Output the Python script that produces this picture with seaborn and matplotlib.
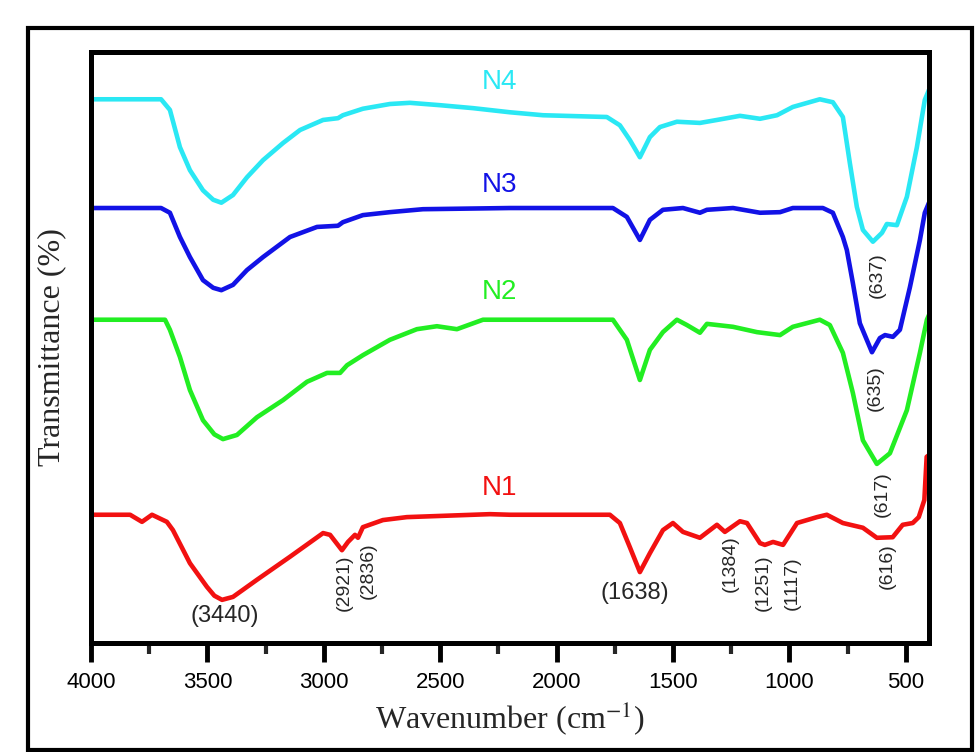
import matplotlib
matplotlib.use('Agg')
import matplotlib.pyplot as plt
import seaborn as sns
import pandas as pd
from matplotlib.patches import Rectangle
from matplotlib.ticker import MultipleLocator

# FTIR spectra, values (transmittance in arbitrary %, offset per sample)
n4_wn = [4000, 3699, 3661, 3618, 3575, 3519, 3475, 3440, 3390, 3330, 3261, 3175, 3102, 3003,
         2939, 2918, 2832, 2716, 2630, 2501, 2359, 2200, 2058, 1784, 1728, 1685, 1642, 1599,
         1556, 1483, 1384, 1311, 1212, 1126, 1053, 985, 869, 813, 770, 740, 710, 684, 641,
         602, 581, 538, 495, 452, 418, 400]
n4_t = [92.0, 92.0, 90.2, 83.9, 80.0, 76.6, 75.0, 74.5, 75.8, 78.8, 81.7, 84.6, 86.8, 88.5,
        88.8, 89.3, 90.4, 91.2, 91.4, 91.0, 90.5, 89.8, 89.3, 89.0, 87.6, 85.1, 82.2, 85.6,
        87.3, 88.2, 88.0, 88.5, 89.2, 88.7, 89.3, 90.7, 92.0, 91.5, 89.0, 81.2, 73.8, 69.9,
        67.9, 69.4, 70.9, 70.7, 75.5, 83.9, 91.9, 93.6]

n3_wn = [4000, 3699, 3661, 3618, 3575, 3519, 3475, 3440, 3390, 3330, 3261, 3145, 3029, 2939,
         2918, 2832, 2716, 2574, 2200, 1758, 1698, 1642, 1599, 1543, 1457, 1384, 1354, 1242,
         1126, 1040, 985, 856, 813, 770, 753, 727, 697, 645, 611, 589, 555, 525, 482, 439,
         418, 400]
n3_t = [73.6, 73.6, 72.8, 68.7, 65.3, 61.4, 60.1, 59.7, 60.6, 63.1, 65.3, 68.7, 70.4, 70.6,
        71.2, 72.4, 72.9, 73.4, 73.6, 73.6, 72.1, 68.2, 71.6, 73.3, 73.6, 72.8, 73.3, 73.6,
        72.8, 72.9, 73.6, 73.6, 72.8, 68.7, 66.5, 60.9, 54.1, 49.2, 51.6, 52.1, 51.8, 53.0,
        60.2, 68.2, 72.8, 74.5]

n2_wn = [4000, 3682, 3661, 3618, 3575, 3519, 3470, 3433, 3373, 3287, 3175, 3072, 2986, 2930,
         2900, 2832, 2716, 2600, 2514, 2428, 2316, 2200, 1758, 1698, 1642, 1599, 1543, 1483,
         1440, 1384, 1354, 1242, 1139, 1040, 985, 869, 826, 770, 727, 684, 624, 568, 495, 439,
         409, 400]
n2_t = [54.7, 54.7, 53.0, 48.4, 42.8, 37.7, 35.3, 34.5, 35.2, 38.2, 41.1, 44.2, 45.7, 45.7,
        47.0, 48.7, 51.3, 53.1, 53.6, 53.1, 54.7, 54.7, 54.7, 51.3, 44.5, 49.6, 52.6, 54.7,
        53.8, 52.5, 54.0, 53.5, 52.6, 52.1, 53.5, 54.7, 53.8, 49.1, 42.3, 34.3, 30.3, 32.1,
        39.4, 49.1, 54.7, 55.5]

n1_wn = [4000, 3832, 3781, 3738, 3674, 3648, 3575, 3502, 3470, 3437, 3390, 3287, 3145, 3003,
         2973, 2922, 2896, 2866, 2853, 2832, 2746, 2643, 2286, 2200, 1771, 1728, 1685, 1642,
         1599, 1543, 1500, 1457, 1384, 1311, 1277, 1212, 1182, 1126, 1105, 1070, 1027, 967,
         881, 839, 770, 684, 624, 556, 513, 470, 444, 420, 410, 400]
n1_t = [21.7, 21.7, 20.5, 21.7, 20.5, 19.1, 13.5, 9.5, 8.0, 7.3, 7.8, 10.7, 14.6, 18.6,
        18.3, 15.7, 17.1, 18.3, 17.8, 19.6, 20.8, 21.3, 21.8, 21.7, 21.7, 20.3, 16.2, 12.0,
        15.2, 19.1, 20.3, 18.8, 17.8, 20.0, 18.8, 20.6, 20.3, 16.9, 16.6, 17.1, 16.6, 20.3,
        21.3, 21.7, 20.3, 19.5, 17.8, 17.9, 20.0, 20.3, 21.3, 24.2, 31.5, 31.8]

samples = ['N1', 'N2', 'N3', 'N4']
colors = {'N1': '#f21111', 'N2': '#22ee22', 'N3': '#1212e6', 'N4': '#2ae8f4'}
label_wn = [2245, 2245, 2245, 2245]
label_t = [26.2, 59.4, 77.5, 94.9]

peak_text = ['(3440)', '(2921)', '(2836)', '(1638)', '(1384)', '(1251)', '(1117)',
             '(616)', '(617)', '(635)', '(637)']
peak_wn = [3424, 2913, 2810, 1663, 1255, 1113, 989, 581, 602, 632, 624]
peak_t = [4.6, 10.2, 12.2, 8.5, 13.5, 10.2, 10.2, 13.0, 25.2, 43.1, 62.3]
peak_rot = [0, 90, 90, 0, 90, 90, 90, 90, 90, 90, 90]

sns.set_style('white')
plt.rcParams['font.family'] = ['Liberation Sans', 'DejaVu Sans']
plt.rcParams['mathtext.fontset'] = 'stix'

frames = []
for name, wn, tr in [('N1', n1_wn, n1_t), ('N2', n2_wn, n2_t), ('N3', n3_wn, n3_t), ('N4', n4_wn, n4_t)]:
    frames.append(pd.DataFrame({'wn': wn, 'T': tr, 'sample': name}))
df = pd.concat(frames, ignore_index=True)

fig = plt.figure(figsize=(9.79, 7.52), dpi=100)
ax = fig.add_axes([91 / 979, 109 / 752, 838 / 979, 591 / 752])

sns.lineplot(data=df, x='wn', y='T', hue='sample', hue_order=samples, palette=colors,
             sort=False, estimator=None, lw=3.3, legend=False, ax=ax)

ax.set_xlim(4000, 400)
ax.set_ylim(0, 100)
ax.xaxis.set_major_locator(MultipleLocator(500))
ax.xaxis.set_minor_locator(MultipleLocator(250))
ax.set_yticks([])
ax.tick_params(axis='x', which='major', direction='out', length=14, width=3.5, pad=7,
               labelsize=16, bottom=True, colors='black')
ax.tick_params(axis='x', which='minor', direction='out', length=8, width=3, bottom=True)
for sp in ax.spines.values():
    sp.set_linewidth(3.6)
    sp.set_color('black')

ax.set_xlabel('Wavenumber (cm$^{-1}$)', fontsize=23, family='Liberation Serif')
ax.set_ylabel('Transmittance (%)', fontsize=23, family='Liberation Serif')
ax.xaxis.set_label_coords(0.5, -0.095)
ax.yaxis.set_label_coords(-0.03, 0.5)

for name, x, y in zip(samples, label_wn, label_t):
    ax.text(x, y, name, color=colors[name], fontsize=20, ha='center', va='center')

for s, x, y, r in zip(peak_text, peak_wn, peak_t, peak_rot):
    ax.text(x, y, s, fontsize=17 if r == 0 else 14, rotation=r, ha='center', va='center')

fig.add_artist(Rectangle((28 / 979, 2 / 752), 944 / 979, 722 / 752, transform=fig.transFigure,
                         fill=False, lw=3, edgecolor='black'))

fig.savefig('out.png', dpi=100)
